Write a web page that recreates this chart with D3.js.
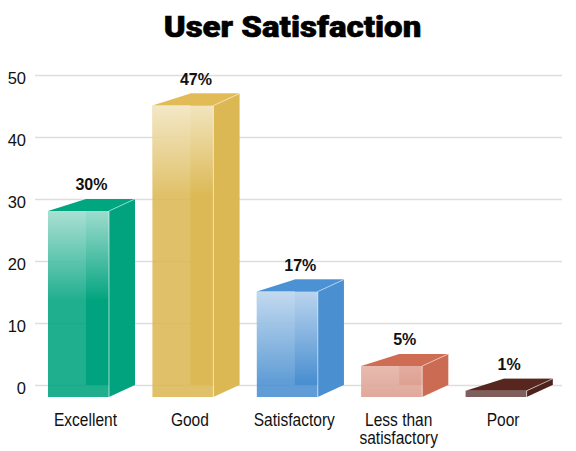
<!DOCTYPE html>
<html>
<head>
<meta charset="utf-8">
<script src="https://cdn.jsdelivr.net/npm/d3@7"></script>
<style>
  body { margin: 0; background: #fff; }
  .tick text { font-family: "Liberation Sans", Arial, sans-serif; font-size: 16.5px; fill: #111; }
  .cat { font-family: "Liberation Sans", Arial, sans-serif; font-size: 18.5px; fill: #111; }
  .pct { font-family: "Liberation Sans", Arial, sans-serif; font-weight: bold; font-size: 16px; fill: #111; }
  .title { font-family: Roboto, "Liberation Sans", sans-serif; font-weight: 900; font-size: 29.5px; fill: #000; }
</style>
</head>
<body>
<div id="chart"></div>
<script>
// chart data
const categories = ["Excellent", "Good", "Satisfactory", "Less than\nsatisfactory", "Poor"];
const values = [30, 47, 17, 5, 1];
const colors = ["#00a37e", "#dcb854", "#4a8fd0", "#cb6b53", "#4e221c"];
const yTicks = [0, 10, 20, 30, 40, 50];

const W = 576, H = 451;

const svg = d3.select("#chart")
    .append("svg")
    .attr("width", W)
    .attr("height", H);

// scales: band is the front face of each box, y is the back face
const x = d3.scaleBand()
    .domain(categories)
    .range([48, 526.6])
    .paddingInner(0.416)
    .paddingOuter(0);

const y = d3.scaleLinear()
    .domain([0, 50])
    .range([385, 75]);

// perspective offsets for the 3d look
const bw = x.bandwidth();
const dLeft = bw * 38 / 61;   // back-left edge shift
const dRight = bw * 26 / 61;  // back-right edge shift
const dy = 12;
const glossStrength = [0.62, 0.62, 0.62, 0.45, 0.18];

// title (stretched a little to get the heavy wide look)
svg.append("text")
    .attr("class", "title")
    .attr("transform", "translate(292.5,37) scale(1.12,1)")
    .attr("text-anchor", "middle")
    .attr("stroke", "#000")
    .attr("stroke-width", 0.6)
    .text("User Satisfaction");

// y axis + gridlines
const axis = svg.append("g")
    .attr("transform", "translate(35,0)")
    .call(d3.axisLeft(y)
        .tickValues(yTicks)
        .tickSize(-527)
        .tickPadding(9));
axis.select(".domain").remove();
axis.selectAll(".tick line")
    .attr("stroke", "#dedede")
    .attr("stroke-width", 1.4);
axis.selectAll(".tick text")
    .attr("dy", "0.5em");

// gradients for the glossy front faces
const defs = svg.append("defs");
categories.forEach((c, i) => {
    const top = y(values[i]) + dy;
    const g = defs.append("linearGradient")
        .attr("id", "gloss" + i)
        .attr("gradientUnits", "userSpaceOnUse")
        .attr("x1", 0).attr("x2", 0)
        .attr("y1", top).attr("y2", top + 90);
    g.append("stop").attr("offset", 0).attr("stop-color", "#fff").attr("stop-opacity", glossStrength[i]);
    g.append("stop").attr("offset", 0.85).attr("stop-color", "#fff").attr("stop-opacity", 0.1);
    g.append("stop").attr("offset", 1).attr("stop-color", "#fff").attr("stop-opacity", 0);
});

const bars = svg.selectAll(".bar")
    .data(categories)
    .enter()
    .append("g")
    .attr("class", "bar");

// back face
bars.append("rect")
    .attr("x", d => x(d) + dLeft)
    .attr("y", (d, i) => y(values[i]))
    .attr("width", bw + dRight - dLeft)
    .attr("height", (d, i) => y(0) - y(values[i]))
    .attr("fill", (d, i) => colors[i]);

// side face
bars.append("path")
    .attr("d", (d, i) => {
        const l = x(d), t = y(values[i]), b = y(0);
        return `M${l + bw},${t + dy} L${l + bw + dRight},${t} L${l + bw + dRight},${b} L${l + bw},${b + dy} Z`;
    })
    .attr("fill", (d, i) => colors[i]);

// top face
bars.append("path")
    .attr("d", (d, i) => {
        const l = x(d), t = y(values[i]);
        return `M${l},${t + dy} L${l + dLeft},${t} L${l + bw + dRight},${t} L${l + bw},${t + dy} Z`;
    })
    .attr("fill", (d, i) => d3.color(colors[i]).brighter(i === 4 ? 0.3 : 0.05));

// front face, a bit see-through
bars.append("rect")
    .attr("x", d => x(d))
    .attr("y", (d, i) => y(values[i]) + dy)
    .attr("width", bw)
    .attr("height", (d, i) => y(0) - y(values[i]))
    .attr("fill", (d, i) => colors[i])
    .attr("fill-opacity", (d, i) => i === 3 ? 0.84 : 0.88);

bars.append("rect")
    .attr("x", d => x(d))
    .attr("y", (d, i) => y(values[i]) + dy)
    .attr("width", bw)
    .attr("height", (d, i) => y(0) - y(values[i]))
    .attr("fill", (d, i) => `url(#gloss${i})`);

// thin highlight edges
bars.append("path")
    .attr("d", (d, i) => {
        const l = x(d), t = y(values[i]), b = y(0);
        return `M${l + bw},${b + dy} L${l + bw},${t + dy} L${l + bw + dRight},${t}`;
    })
    .attr("fill", "none")
    .attr("stroke", "#fff")
    .attr("stroke-opacity", 0.6)
    .attr("stroke-width", 1);

// percentage labels above the top face
bars.append("text")
    .attr("class", "pct")
    .attr("x", d => x(d) + bw / 2 + 13)
    .attr("y", (d, i) => y(values[i]) - 9)
    .attr("text-anchor", "middle")
    .text((d, i) => values[i] + "%");

// category labels (condensed by a horizontal squeeze)
const cat = svg.selectAll(".cat")
    .data(categories)
    .enter()
    .append("text")
    .attr("class", "cat")
    .attr("text-anchor", "middle")
    .attr("transform", d => `translate(${x(d) + bw / 2 + 7},426) scale(0.84,1)`);
cat.selectAll("tspan")
    .data(d => d.split("\n"))
    .enter()
    .append("tspan")
    .attr("x", 0)
    .attr("dy", (d, j) => j === 0 ? 0 : 18.5)
    .text(d => d);
</script>
</body>
</html>
